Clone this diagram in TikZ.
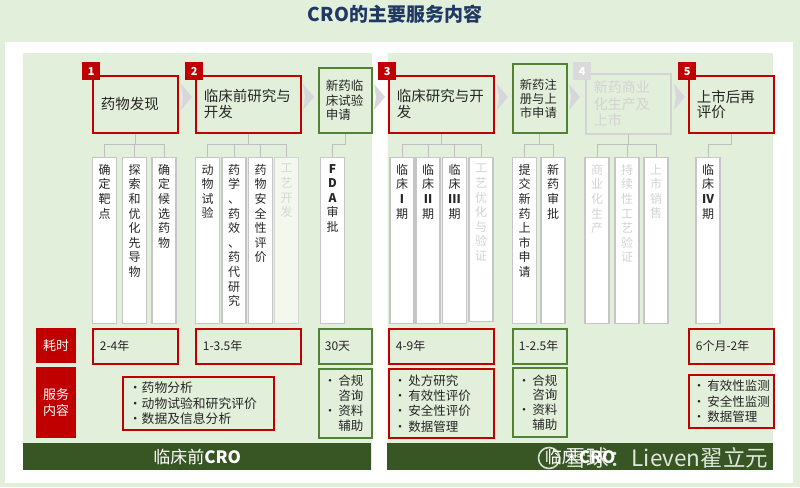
\documentclass[tikz,border=0pt]{standalone}
\usepackage{fontspec}
\setmainfont{Noto Sans CJK SC}
\definecolor{bgc}{HTML}{E2EFDA}
\definecolor{panelc}{HTML}{E2EFDA}
\definecolor{redc}{HTML}{C00000}
\definecolor{grnc}{HTML}{548235}
\definecolor{barc}{HTML}{375623}
\definecolor{titlec}{HTML}{1F3864}
\definecolor{connc}{HTML}{BFBFBF}
\definecolor{chevc}{HTML}{D6D6DC}
\definecolor{childc}{HTML}{C6C6C6}
\definecolor{fadec}{HTML}{D3D3D3}
\definecolor{txtc}{HTML}{262626}
\tikzset{
  redbox/.style={draw=redc,line width=1.8pt,fill=panelc,inner ysep=0pt,text=txtc,anchor=north west,align=left},
  grnbox/.style={draw=grnc,line width=1.8pt,fill=panelc,inner ysep=0pt,text=txtc,anchor=north west,align=left},
  fadebox/.style={draw=fadec,line width=1.8pt,fill=panelc,inner ysep=0pt,text=fadec,anchor=north west,align=left},
  badge/.style={fill=redc,text=white,font=\fontsize{11}{11}\selectfont\bfseries,minimum size=18pt,inner sep=0pt,anchor=north west},
  childbox/.style={draw=childc,line width=1.1pt,fill=white,minimum width=24pt,minimum height=166pt,anchor=north,inner sep=0pt},
  vtext/.style={font=\fontsize{12}{14.6}\selectfont,align=center,inner sep=0pt,anchor=north,text=txtc},
  conn/.style={draw=connc,line width=0.9pt},
  lbl/.style={fill=redc,text=white,inner sep=0pt,anchor=north west,font=\fontsize{13}{16}\selectfont,align=center},
  chev/.style={fill=chevc},
  bar/.style={fill=barc,text=white,inner sep=0pt,anchor=north west,minimum height=27pt,font=\fontsize{17}{17}\selectfont}
}
\newcommand\mykid[5]{%
  \node[childbox,#4] (#1) at (#2,157) {};
  \node[vtext,#5] (#1t) at (#2,164) {#3};}
\newcommand\mychev[1]{\fill[chev] (#1,84) -- (#1+11,97) -- (#1,110) -- (#1+2,97) -- cycle;}
\begin{document}
\begin{tikzpicture}[x=1pt,y=-1pt]
\useasboundingbox (0,0) rectangle (800,487);
\fill[bgc] (0,0) rectangle (800,487);
\fill[white] (5,42) rectangle (793,483);
\fill[panelc] (23,53) rectangle (372,470);
\fill[panelc] (387,53) rectangle (773,470);
\draw[white!70!panelc,line width=0.8pt] (387.5,53) -- (387.5,443);

% title
\node[text=titlec,font=\fontsize{19}{19}\selectfont\bfseries,inner sep=0pt] (title) at (395,14) {CRO的主要服务内容};

% chevrons
\mychev{181}
\mychev{303}
\mychev{374}
\mychev{497}
\mychev{569}
\mychev{674}

% top stage boxes
\node[redbox,minimum width=85pt,minimum height=57pt,text width=69pt,inner xsep=8pt,font=\fontsize{14.5}{16}\selectfont] (s1) at (92,75) {药物发现};
\node[redbox,minimum width=105pt,minimum height=57pt,text width=89pt,inner xsep=8pt,font=\fontsize{14.5}{16}\selectfont] (s2) at (195,75) {临床前研究与\\开发};
\node[grnbox,minimum width=53pt,minimum height=65pt,text width=39pt,inner xsep=7pt,font=\fontsize{12.5}{14.5}\selectfont] (g1) at (318,67) {新药临\\床试验\\申请};
\node[redbox,minimum width=105pt,minimum height=57pt,text width=89pt,inner xsep=8pt,font=\fontsize{14.5}{16}\selectfont] (s3) at (388,75) {临床研究与开\\发};
\node[grnbox,minimum width=54pt,minimum height=69pt,text width=40pt,inner xsep=7pt,font=\fontsize{12.3}{14}\selectfont] (g2) at (512,63) {新药注\\册与上\\市申请};
\node[fadebox,minimum width=85pt,minimum height=60pt,text width=69pt,inner xsep=8pt,font=\fontsize{14}{16.5}\selectfont] (s4) at (585,73) {新药商业\\化生产及\\上市};
\node[redbox,minimum width=85pt,minimum height=57pt,text width=69pt,inner xsep=8pt,font=\fontsize{14.5}{15.5}\selectfont] (s5) at (688,75) {上市后再\\评价};

% badges
\node[badge] (b1) at (82,62) {1};
\node[badge] (b2) at (185,62) {2};
\node[badge] (b3) at (378,62) {3};
\node[badge,fill=fadec!85!white] (b4) at (573,62) {4};
\node[badge] (b5) at (678,62) {5};

% children
\mykid{c11}{104.5}{确\\定\\靶\\点}{}{}
\mykid{c12}{134.5}{探\\索\\和\\优\\化\\先\\导\\物}{}{}
\mykid{c13}{164}{确\\定\\候\\选\\药\\物}{}{}
\mykid{c21}{207.5}{动\\物\\试\\验}{}{}
\mykid{c22}{234}{药\\学\\、\\药\\效\\、\\药\\代\\研\\究}{}{}
\mykid{c23}{260.5}{药\\物\\安\\全\\性\\评\\价}{}{}
\mykid{c24}{286.5}{工\\艺\\开\\发}{fill=white!55!panelc,draw=childc!60!panelc}{text=fadec!80!panelc}
\mykid{c31}{332.5}{\bfseries F\\\bfseries D\\\bfseries A\\审\\批}{}{}
\mykid{c41}{402}{临\\床\\\bfseries I\\期}{}{}
\mykid{c42}{428}{临\\床\\\bfseries II\\期}{}{}
\mykid{c43}{454.5}{临\\床\\\bfseries III\\期}{}{}
\mykid{c44}{481}{工\\艺\\优\\化\\与\\验\\证}{minimum height=164pt}{text=fadec}
\mykid{c51}{524.5}{提\\交\\新\\药\\上\\市\\申\\请}{}{}
\mykid{c52}{553}{新\\药\\审\\批}{}{}
\mykid{c61}{597}{商\\业\\化\\生\\产}{}{text=fadec}
\mykid{c62}{627}{持\\续\\性\\工\\艺\\验\\证}{}{text=fadec}
\mykid{c63}{656}{上\\市\\销\\售}{}{text=fadec}
\mykid{c71}{708}{临\\床\\\bfseries IV\\期}{}{}

% tree connectors
\coordinate (busy) at (0,144);
\foreach \c in {c11,c12,c13} \draw[conn] (s1.south) -- (s1.south |- busy) -| (\c.north);
\foreach \c in {c21,c22,c23,c24} \draw[conn] (s2.south) -- (s2.south |- busy) -| (\c.north);
\draw[conn] (g1.south) -- (g1.south |- busy) -| (c31.north);
\foreach \c in {c41,c42,c43,c44} \draw[conn] (s3.south) -- (s3.south |- busy) -| (\c.north);
\foreach \c in {c51,c52} \draw[conn] (g2.south) -- (g2.south |- busy) -| (\c.north);
\foreach \c in {c61,c62,c63} \draw[conn] (s4.south) -- (s4.south |- busy) -| (\c.north);
\draw[conn] (s5.south) -- (s5.south |- busy) -| (c71.north);

% row labels
\node[lbl,minimum width=40pt,minimum height=35pt] (l1) at (36,328) {耗时};
\node[lbl,minimum width=40pt,minimum height=71pt] (l2) at (36,367) {服务\\内容};

% time row
\node[redbox,minimum width=85pt,minimum height=35pt,text width=71pt,inner xsep=7pt,font=\fontsize{12}{14}\selectfont] (h1) at (92,328) {2-4年};
\node[redbox,minimum width=105pt,minimum height=35pt,text width=91pt,inner xsep=7pt,font=\fontsize{12}{14}\selectfont] (h2) at (195,328) {1-3.5年};
\node[grnbox,minimum width=53pt,minimum height=35pt,text width=41pt,inner xsep=6pt,font=\fontsize{12}{14}\selectfont] (h3) at (318,328) {30天};
\node[redbox,minimum width=105pt,minimum height=35pt,text width=91pt,inner xsep=7pt,font=\fontsize{12}{14}\selectfont] (h4) at (388,328) {4-9年};
\node[grnbox,minimum width=54pt,minimum height=35pt,text width=42pt,inner xsep=6pt,font=\fontsize{12}{14}\selectfont] (h5) at (512,328) {1-2.5年};
\node[redbox,minimum width=85pt,minimum height=35pt,text width=71pt,inner xsep=7pt,font=\fontsize{12}{14}\selectfont] (h6) at (688,328) {6个月-2年};

% service row
\node[redbox,minimum width=151pt,minimum height=53pt,text width=139pt,inner xsep=6pt,font=\fontsize{12.8}{15.5}\selectfont] (v1) at (122,376) {•药物分析\\•动物试验和研究评价\\•数据及信息分析};
\node[grnbox,minimum width=53pt,minimum height=69pt,text width=43pt,inner xsep=5pt,font=\fontsize{12.5}{15}\selectfont] (v2) at (318,368) {•\,合规\\\phantom{•\,}咨询\\•\,资料\\\phantom{•\,}辅助};
\node[redbox,minimum width=105pt,minimum height=69pt,text width=95pt,inner xsep=5pt,font=\fontsize{12.5}{15.3}\selectfont] (v3) at (388,368) {•\,处方研究\\•\,有效性评价\\•\,安全性评价\\•\,数据管理};
\node[grnbox,minimum width=54pt,minimum height=69pt,text width=44pt,inner xsep=5pt,font=\fontsize{12.5}{14.7}\selectfont] (v4) at (512,367) {•\,合规\\\phantom{•\,}咨询\\•\,资料\\\phantom{•\,}辅助};
\node[redbox,minimum width=85pt,minimum height=53pt,text width=77pt,inner xsep=4pt,font=\fontsize{12.5}{15.5}\selectfont] (v5) at (688,374) {•\,有效性监测\\•\,安全性监测\\•\,数据管理};

% bottom bars
\node[bar,minimum width=348pt] (bar1) at (23,443) {临床前\textbf{CRO}};
\node[bar,minimum width=386pt] (bar2) at (387,443) {临床\textbf{CRO}};

% watermark
\draw[white,opacity=0.8,line width=1.6pt] (549,458) circle (10.5);
\node[text=white,opacity=0.85,font=\fontsize{22.5}{22.5}\selectfont,inner sep=0pt,anchor=west] (wm) at (564,458) {雪球：Lieven翟立元};
\end{tikzpicture}
\end{document}
